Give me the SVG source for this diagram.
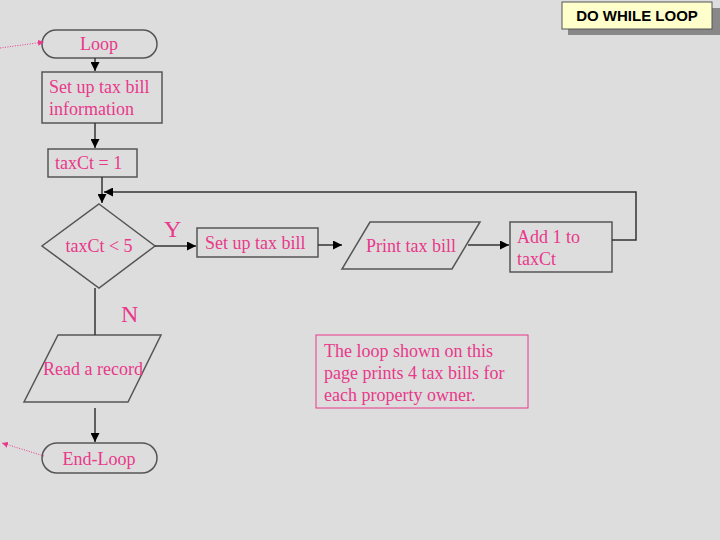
<svg xmlns="http://www.w3.org/2000/svg" width="720" height="540" viewBox="0 0 720 540">
<style>
.s{fill:none;stroke:#555;stroke-width:1.5}
.t{font-family:"Liberation Serif",serif;font-size:18px;fill:#e8398a}
.c{fill:none;stroke:#333;stroke-width:1.5}
</style>
<defs>
<marker id="a" viewBox="0 0 10 10" refX="10" refY="5" markerWidth="6" markerHeight="6" orient="auto"><path d="M0,0L10,5L0,10z" fill="#000"/></marker>
<marker id="p" viewBox="0 0 10 10" refX="10" refY="5" markerWidth="6" markerHeight="6" orient="auto"><path d="M0,0L10,5L0,10z" fill="#e8398a"/></marker>
</defs>
<rect width="720" height="540" fill="#dddddd"/>
<g id="title">
<rect x="568" y="8" width="152" height="27" fill="#888"/>
<rect x="562" y="2" width="150" height="27" fill="#ffffcc" stroke="#555"/>
<text x="637" y="21" text-anchor="middle" font-family="Liberation Sans,sans-serif" font-weight="bold" font-size="15">DO WHILE LOOP</text>
</g>
<g id="loop"><rect x="42" y="30" width="115" height="28" rx="14" class="s"/><text x="99" y="50" class="t" text-anchor="middle">Loop</text></g>
<g id="setupinfo"><rect x="42" y="72" width="120" height="51" class="s"/><text x="49" y="93" class="t">Set up tax bill</text><text x="49" y="115" class="t">information</text></g>
<g id="init"><rect x="48" y="149" width="89" height="28" class="s"/><text x="55" y="169" class="t">taxCt = 1</text></g>
<g id="cond"><path d="M99,204L155,246L99,288L42,246Z" class="s"/><text x="99" y="252" class="t" text-anchor="middle">taxCt &lt; 5</text></g>
<g id="setup"><rect x="197" y="228" width="121" height="29" class="s"/><text x="205" y="249" class="t">Set up tax bill</text></g>
<g id="print"><path d="M370,222L480,222L452,269L342,269Z" class="s"/><text x="411" y="252" class="t" text-anchor="middle">Print tax bill</text></g>
<g id="add"><rect x="510" y="222" width="102" height="50" class="s"/><text x="517" y="243" class="t">Add 1 to</text><text x="517" y="265" class="t">taxCt</text></g>
<g id="read"><path d="M58,335L161,335L128,402L24,402Z" class="s"/><text x="93" y="375" class="t" text-anchor="middle">Read a record</text></g>
<g id="end"><rect x="42" y="443" width="115" height="30" rx="15" class="s"/><text x="99" y="465" class="t" text-anchor="middle">End-Loop</text></g>
<g id="note"><rect x="316" y="335" width="212" height="73" fill="none" stroke="#e8398a" stroke-width="1"/><text x="324" y="357" class="t">The loop shown on this</text><text x="324" y="379" class="t">page prints 4 tax bills for</text><text x="324" y="401" class="t">each property owner.</text></g>
<g id="connectors">
<path d="M95,58V71" class="c" marker-end="url(#a)"/>
<path d="M95,123V148" class="c" marker-end="url(#a)"/>
<path d="M102,177V203" class="c" marker-end="url(#a)"/>
<path d="M612,240H636V192H104" class="c" marker-end="url(#a)"/>
<path d="M155,246H196" class="c" marker-end="url(#a)"/>
<path d="M318,245H342" class="c" marker-end="url(#a)"/>
<path d="M468,245H509" class="c" marker-end="url(#a)"/>
<path d="M95,288V335" class="c"/>
<path d="M95,408V442" class="c" marker-end="url(#a)"/>
<path d="M0,48L44,42" fill="none" stroke="#e8398a" stroke-width="1" stroke-dasharray="1,1.5" marker-end="url(#p)"/>
<path d="M44,456L2,443" fill="none" stroke="#e8398a" stroke-width="1" stroke-dasharray="1,1.5" marker-end="url(#p)"/>
<text x="164" y="237" class="t" style="font-size:24px">Y</text>
<text x="121" y="322" class="t" style="font-size:24px">N</text>
</g>
</svg>
